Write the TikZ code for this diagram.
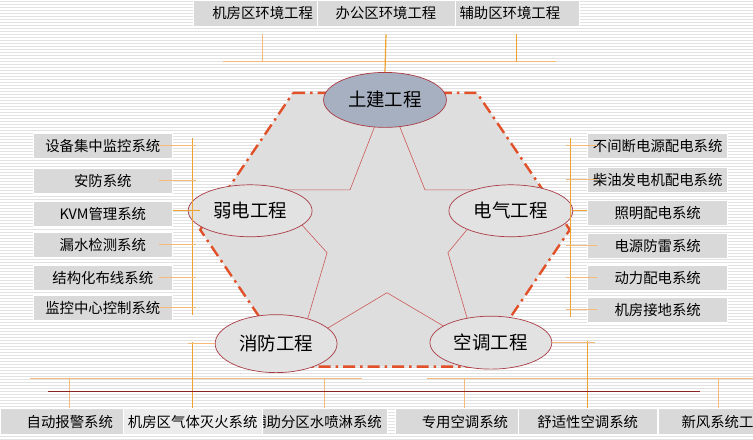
\documentclass[tikz,border=0pt]{standalone}
\usepackage{fontspec}
\newfontfamily\cjk{Noto Sans CJK SC}
\usepackage{xcolor}
\usetikzlibrary{shapes.geometric,positioning}

\definecolor{boxgray}{RGB}{217,217,217}
\definecolor{hexgray}{RGB}{222,222,222}
\definecolor{partgray}{RGB}{226,226,226}
\definecolor{topblue}{RGB}{167,176,193}
\definecolor{rimred}{RGB}{170,60,70}
\definecolor{starred}{RGB}{205,90,90}
\definecolor{dashred}{RGB}{225,80,40}
\definecolor{busorange}{RGB}{240,160,45}
\definecolor{tickorange}{RGB}{245,185,120}
\definecolor{basered}{RGB}{140,35,35}
\definecolor{stripe}{RGB}{226,226,226}

\begin{document}
\begin{tikzpicture}[
    x=1pt, y=-1pt,
    every node/.style={font=\cjk\fontsize{14.4}{16}\selectfont, text=black},
    sysbox/.style={
        rectangle, fill=boxgray, draw=white, line width=0.8pt,
        minimum width=139pt, minimum height=25pt, inner sep=0pt
    },
    part/.style={
        ellipse, draw=rimred, line width=0.7pt, fill=partgray,
        minimum width=123pt, minimum height=54pt, inner sep=0pt,
        font=\cjk\fontsize{18.5}{20}\selectfont
    },
    bus/.style={draw=busorange, line width=1.2pt},
    tick/.style={draw=tickorange, line width=1pt},
    starline/.style={draw=starred, line width=0.6pt}
]
% --- background: striped paper
\fill[white] (0,0) rectangle (753,440);
\foreach \s in {1.5,4.5,...,439.5}
  \draw[draw=stripe, line width=0.8pt] (0,\s) -- (753,\s);
\useasboundingbox (0,0) rectangle (753,440);

% --- hexagon with the star inside
\fill[hexgray] (293,93) -- (477,93) -- (570,230) -- (477,367)
  -- (293,367) -- (200,230) -- cycle;
\draw[dashred, line width=2.4pt, dash pattern=on 12pt off 5pt on 2.5pt off 5pt]
  (293,93) -- (477,93) -- (570,230) -- (477,367)
  -- (293,367) -- (200,230) -- cycle;
\draw[starline] (387,95) -- (425,190) -- (500,190) -- (448,253) -- (475,345)
  -- (387,293) -- (300,345) -- (327,253) -- (270,190) -- (350,190) -- cycle;

% --- the five parts
\node[part, fill=topblue, minimum height=55pt] (tujian) at (385,100) {土建工程};
\node[part, minimum width=124pt, minimum height=52pt] (ruodian) at (250,211) {弱电工程};
\node[part, minimum width=124pt, minimum height=52pt] (dianqi) at (511,211) {电气工程};
\node[part, minimum width=122pt, minimum height=58pt] (xiaofang) at (276,344) {消防工程};
\node[part, minimum width=122pt, minimum height=53pt] (kongtiao) at (491,343) {空调工程};

% --- top row (civil works)
\node[sysbox, minimum height=26pt] (envA) at (262.5,13) {机房区环境工程};
\node[sysbox, minimum width=140pt, minimum height=26pt] (envC) at (510,13) {辅助区环境工程};
\node[sysbox, minimum width=138pt, minimum height=26pt] (envB) at (386,13) {办公区环境工程};

\coordinate (topL) at (223,62);
\coordinate (topR) at (556,62);
\coordinate (envCt) at ([xshift=7pt]envC.south);
\draw[tick] (topL) -- (topR);
\draw[tick] ([yshift=-8pt]envA.south) -- (envA.south |- topL);
\draw[bus] ([yshift=-8pt]envCt) -- (envCt |- topL);
\draw[bus] ([yshift=-8pt]envB.south) -- (tujian.north);

% --- left column (low voltage)
\foreach \n/\y/\lab in {%
    ls1/146/设备集中监控系统,
    ls2/181/安防系统,
    ls3/214/KVM管理系统,
    ls4/245/漏水检测系统,
    ls5/278/结构化布线系统,
    ls6/308/监控中心控制系统}
  \node[sysbox] (\n) at (102.5,\y) {\lab};

\coordinate (lbusT) at (192,138);
\coordinate (lbusB) at (192,315);
\draw[bus] (lbusT) -- (lbusB);
\foreach \n in {ls1,ls2,ls4,ls5,ls6}
  \draw[tick] ([xshift=-14pt]\n.east) -- ++(37,0);
\draw[bus] (ls3.east |- ruodian.west) -- ([xshift=12pt]ruodian.west);

% --- right column (electrical)
\foreach \n/\y/\lab in {%
    rs1/146/不间断电源配电系统,
    rs2/180/柴油发电机配电系统,
    rs3/213/照明配电系统,
    rs4/246/电源防雷系统,
    rs5/278/动力配电系统,
    rs6/310/机房接地系统}
  \node[sysbox, minimum width=140pt] (\n) at (658,\y) {\lab};

\coordinate (rbusT) at (571,138);
\coordinate (rbusB) at (571,317);
\draw[bus] (rbusT) -- (rbusB);
\foreach \n in {rs1,rs2,rs4,rs5,rs6}
  \draw[tick] ([xshift=10pt]\n.west) -- ++(-31,0);
\draw[bus] (dianqi.east) -- (dianqi.east -| rs3.west);

% --- bottom row (fire + air conditioning)
\node[sysbox, minimum height=26pt] (alarm) at (69.5,422) {自动报警系统};
\node[sysbox, minimum width=140pt, minimum height=26pt] (sprink) at (317,422) {辅助分区水喷淋系统};
\node[sysbox, fill=boxgray!50, minimum height=26pt] (gas) at (192.5,422) {机房区气体灭火系统};
\node[sysbox, minimum width=140pt, minimum height=26pt] (acroom) at (465,422) {专用空调系统};
\node[sysbox, minimum height=26pt] (comfort) at (588,422) {舒适性空调系统};
\node[sysbox, anchor=west, minimum height=26pt, text width=92pt, inner xsep=5pt,
  align=left] (fresh) at (658,422) {新风系统工程};

\coordinate (bbusA) at (30,379);
\coordinate (bbusB) at (362,379);
\coordinate (bbusC) at (427,379);
\coordinate (bbusD) at (753,379);
\coordinate (sprinkT) at ([xshift=7pt]sprink.north);
\coordinate (freshT) at ([xshift=61pt]fresh.north west);
\coordinate (xfK) at (xiaofang.west -| gas.north);
\coordinate (ktK) at (kongtiao.east -| comfort.north);

\draw[tick] (bbusA) -- (bbusB);
\draw[tick] (bbusC) -- (bbusD);
\draw[tick] (alarm.north) -- (alarm.north |- bbusA);
\draw[tick] (sprinkT) -- (sprinkT |- bbusA);
\draw[tick] (acroom.north) -- (acroom.north |- bbusC);
\draw[tick] (freshT) -- (freshT |- bbusC);
\draw[bus] (gas.north) -- ([yshift=2pt]xfK);
\draw[tick] ([xshift=-5pt]xfK) -- (xiaofang.west);
\draw[bus] (comfort.north) -- ([yshift=2pt]ktK);
\draw[tick] (kongtiao.east) -- ([xshift=7pt]ktK);

% base line
\coordinate (baseL) at (48,392);
\coordinate (baseR) at (700,392);
\draw[basered, line width=1pt] (baseL) -- (baseR);
\end{tikzpicture}
\end{document}
